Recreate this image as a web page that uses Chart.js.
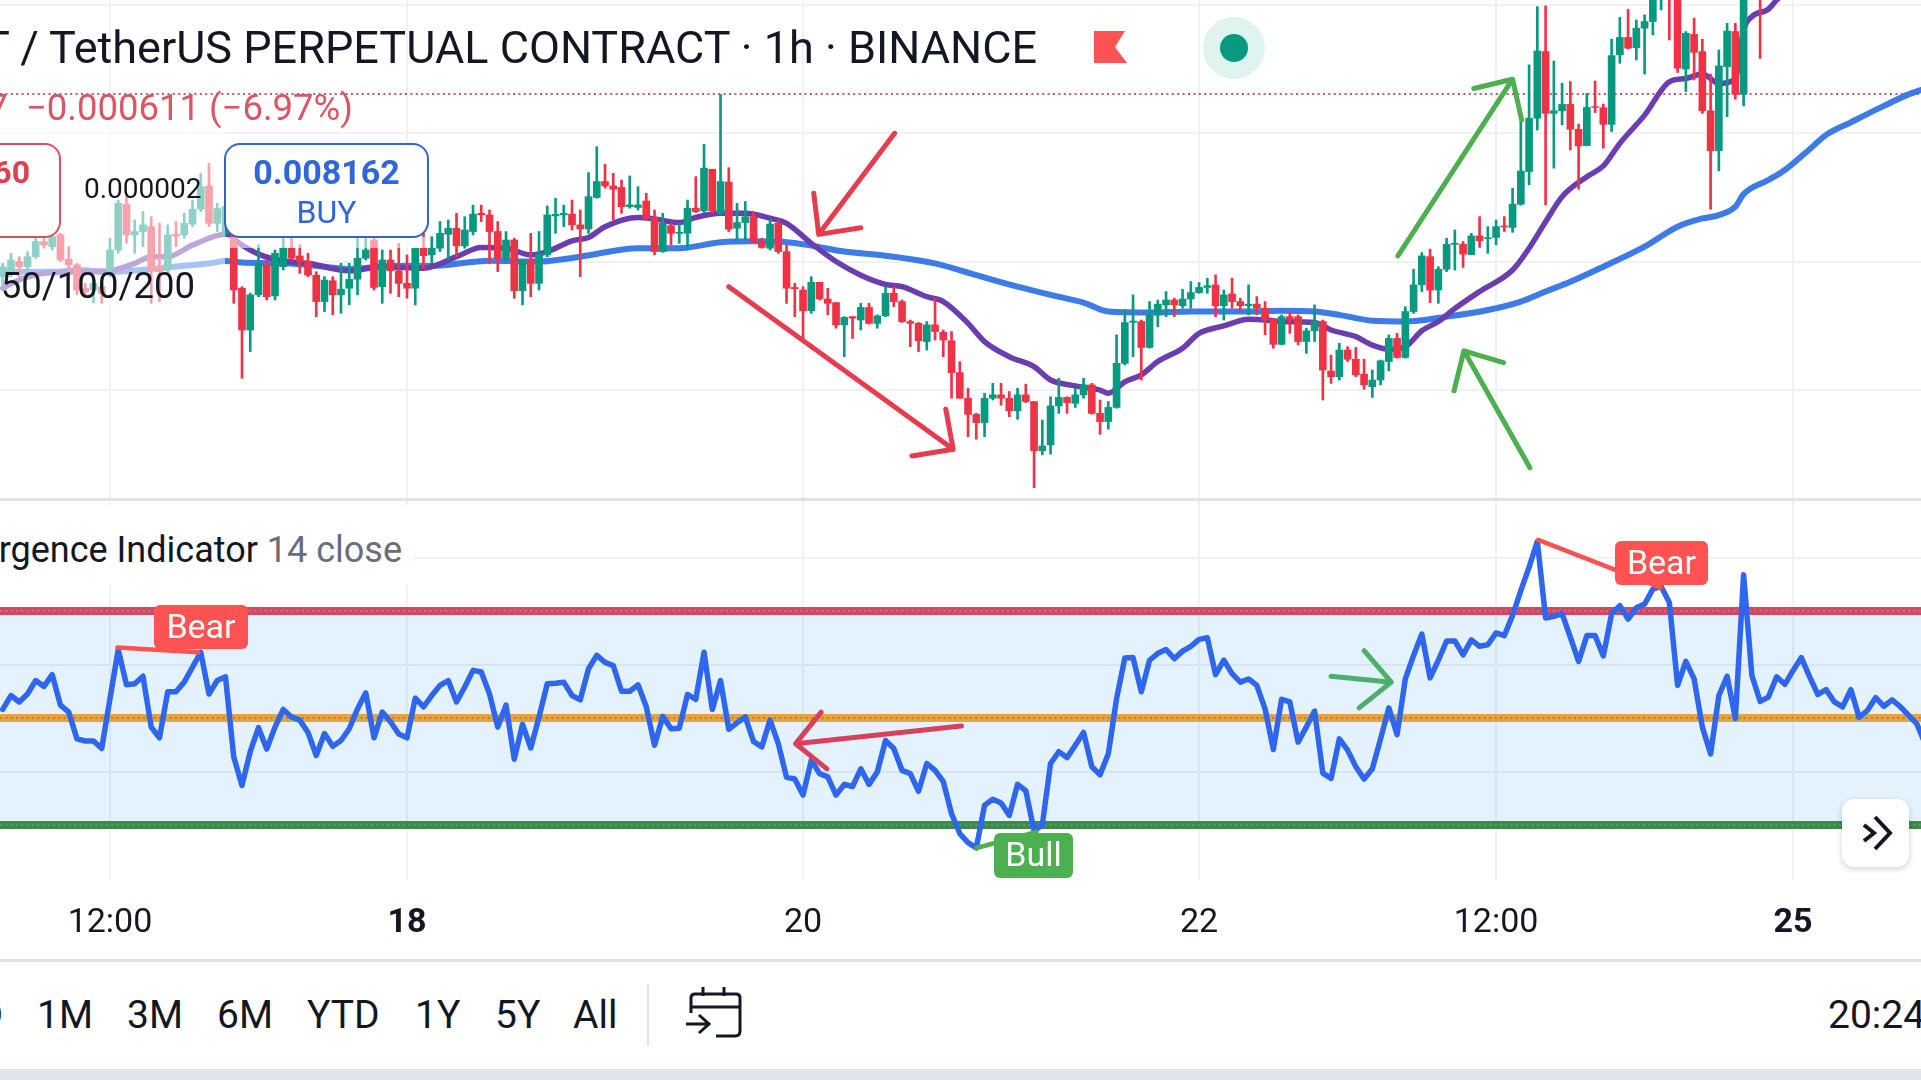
<!DOCTYPE html>
<html>
<head>
<meta charset="utf-8">
<title>TetherUS perpetual 1h</title>
<script src="https://cdn.jsdelivr.net/npm/chart.js@4"></script>
<style>
  html, body { margin: 0; padding: 0; background: #fff; }
  #page { position: relative; width: 1921px; height: 1080px; overflow: hidden; background: #fff; font-family: Roboto, sans-serif; color: #131722; }
  canvas { position: absolute; left: 0; display: block; }
  #priceChart { top: 0; }
  #rsiChart { top: 500px; }
  .abs { position: absolute; }
  .txt { position: absolute; line-height: 1; white-space: nowrap; }
  .tag { position: absolute; color: #fff; border-radius: 6px; font-size: 34px; line-height: 42px; text-align: center; }
  .box { position: absolute; top: 143px; height: 91px; background: #fff; border: 2px solid; border-radius: 16px; }
</style>
</head>
<body>
<div id="page">
  <canvas id="priceChart" width="1921" height="499"></canvas>
  <canvas id="rsiChart" width="1921" height="460"></canvas>

  <!-- separators -->
  <div class="abs" style="left:0;top:498px;width:1921px;height:3px;background:#e0e3eb"></div>
  <div class="abs" style="left:0;top:959px;width:1921px;height:3px;background:#e0e0e0"></div>
  <div class="abs" style="left:0;top:1069px;width:1921px;height:11px;background:#dfe3ec"></div>

  <!-- legend veil over the chart -->
  <div class="abs" style="left:0;top:100px;width:225px;height:205px;background:rgba(255,255,255,.55)"></div>
  <div class="abs" style="left:225px;top:237px;width:205px;height:11px;background:rgba(255,255,255,.55)"></div>
  <div class="abs" style="left:0;top:505px;width:414px;height:80px;background:#fff"></div>

  <div class="txt" style="right:884px;top:25px;font-size:45px">T / TetherUS PERPETUAL CONTRACT · 1h · BINANCE</div>
  <svg class="abs" style="left:1093px;top:31px" width="34" height="33" viewBox="0 0 34 33"><path d="M1 0H32L22 16L34 32H1Z" fill="#ff5252"/></svg>
  <div class="abs" style="left:1203px;top:17px;width:62px;height:62px;border-radius:50%;background:#dff3ef"></div>
  <div class="abs" style="left:1220px;top:34px;width:28px;height:28px;border-radius:50%;background:#089981"></div>

  <div class="txt" style="right:1568px;top:90px;font-size:36.5px;color:#dc5564">7&nbsp; −0.000611 (−6.97%)</div>

  <div class="box" style="left:-20px;width:77px;border-color:#d9505f"></div>
  <div class="txt" style="right:1891px;top:156px;font-size:32px;font-weight:700;color:#e0404f">60</div>
  <div class="txt" style="left:84px;top:175px;font-size:28px">0.000002</div>
  <div class="box" style="left:224px;width:201px;border-color:#3366cc"></div>
  <div class="txt" style="left:224px;width:205px;text-align:center;top:155px;font-size:34px;font-weight:700;color:#2f66dd">0.008162</div>
  <div class="txt" style="left:224px;width:205px;text-align:center;top:196px;font-size:32px;color:#2f66dd">BUY</div>
  <div class="txt" style="right:1726px;top:268px;font-size:36.5px">50/100/200</div>

  <div class="txt" style="right:1519px;top:532px;font-size:36px">rgence Indicator <span style="color:#6a6d78">14 close</span></div>

  <div class="tag" style="left:154px;top:605px;width:94px;height:44px;background:#ff5252">Bear</div>
  <div class="tag" style="left:1615px;top:541px;width:93px;height:44px;background:#ff5252">Bear</div>
  <div class="tag" style="left:994px;top:833px;width:79px;height:45px;background:#4caf50">Bull</div>

  <div class="abs" style="left:1842px;top:799px;width:67px;height:68px;border-radius:12px;background:#fff;box-shadow:0 2px 6px rgba(0,0,0,.18)"></div>
  <svg class="abs" style="left:1862px;top:815px" width="32" height="36" viewBox="0 0 32 36" fill="none" stroke="#131722" stroke-width="4"><path d="M2 10L12 18L2 26"/><path d="M13 2L28 18L13 34"/></svg>

  <div class="txt" style="right:1918px;top:996px;font-size:39px">D</div>
  <div class="txt" style="left:37px;top:996px;font-size:39px">1M</div>
  <div class="txt" style="left:127px;top:996px;font-size:39px">3M</div>
  <div class="txt" style="left:217px;top:996px;font-size:39px">6M</div>
  <div class="txt" style="left:307px;top:996px;font-size:39px">YTD</div>
  <div class="txt" style="left:415px;top:996px;font-size:39px">1Y</div>
  <div class="txt" style="left:495px;top:996px;font-size:39px">5Y</div>
  <div class="txt" style="left:573px;top:996px;font-size:39px">All</div>
  <div class="abs" style="left:647px;top:984px;width:2px;height:62px;background:#e0e3eb"></div>
  <svg class="abs" style="left:686px;top:987px" width="56" height="52" viewBox="0 0 56 52" fill="none" stroke="#131722" stroke-width="3"><path d="M17 0V9M38 0V9M5 20H54M5 26V11Q5 7 9 7H50Q54 7 54 11V44Q54 49 49 49H30"/><path d="M0 37H22M13 28L23 37L13 46"/></svg>
  <div class="txt" style="left:1828px;top:996px;font-size:39px">20:24</div>
</div>

<script>
/* prices are in millionths of USDT, one value per hourly candle from firstHour on */
var firstHour = -13;
var opens = [
  7441,7461,7500,7480,7519,7578,7558,7604,7509,7487,
  7396,7389,7402,7467,7545,7724,7604,7617,7636,7474,
  7467,7606,7604,7646,7704,7795,7649,7610,7610,7396,
  7233,7370,7487,7366,7480,7552,7522,7500,7447,7344,
  7425,7370,7396,7431,7513,7584,7402,7506,7464,7415,
  7396,7552,7526,7552,7606,7630,7561,7617,7688,7682,
  7617,7513,7584,7386,7506,7415,7526,7678,7682,7685,
  7643,7627,7750,7812,7795,7789,7714,7711,7736,7672,
  7539,7640,7610,7610,7708,7698,7860,7688,7810,7630,
  7652,7675,7578,7552,7649,7539,7399,7389,7308,7419,
  7354,7340,7253,7285,7272,7321,7259,7288,7376,7344,
  7266,7259,7188,7253,7224,7191,7067,6967,6904,6872,
  6967,6980,6967,6918,6980,6954,6762,6785,6937,6970,
  6947,6980,7019,6908,6876,6931,7103,7263,7266,7165,
  7292,7331,7350,7328,7354,7379,7399,7409,7328,7374,
  7344,7328,7334,7318,7275,7177,7285,7285,7188,7230,
  7266,7073,7051,7155,7119,7061,7012,7038,7110,7200,
  7126,7305,7409,7519,7389,7470,7567,7567,7527,7600,
  7589,7594,7639,7633,7723,7851,8059,8319,8078,8088,
  8113,8016,7952,8104,8100,8035,8306,8374,8334,8410,
  8436,8533,8598,8533,8251,8386,8319,8088,7932,8260,
  8397,8153,8572,8637
];
var closes = [
  7480,7506,7480,7519,7578,7565,7597,7506,7487,7389,
  7383,7415,7376,7545,7727,7604,7617,7643,7467,7461,
  7604,7600,7649,7704,7792,7649,7707,7714,7389,7233,
  7370,7493,7363,7532,7552,7513,7500,7447,7344,7428,
  7370,7392,7431,7513,7545,7399,7506,7464,7415,7396,
  7552,7523,7552,7610,7630,7561,7623,7685,7682,7617,
  7513,7584,7386,7506,7415,7529,7682,7684,7688,7643,
  7627,7753,7812,7795,7782,7714,7721,7721,7669,7539,
  7649,7610,7614,7708,7695,7864,7698,7812,7626,7652,
  7675,7578,7555,7646,7539,7396,7394,7308,7419,7354,
  7337,7253,7282,7279,7321,7259,7288,7376,7344,7266,
  7259,7191,7253,7227,7194,7067,6967,6904,6872,6967,
  6980,6967,6918,6980,6954,6762,6781,6937,6970,6950,
  6980,7019,6908,6876,6931,7103,7262,7268,7165,7292,
  7334,7350,7331,7354,7379,7399,7406,7328,7370,7344,
  7328,7334,7318,7272,7177,7285,7272,7188,7230,7266,
  7077,7051,7155,7119,7058,7019,7038,7113,7200,7126,
  7305,7409,7522,7389,7470,7567,7571,7529,7600,7581,
  7593,7636,7635,7724,7853,8059,8321,8078,8088,8113,
  8016,7951,8101,8101,8035,8303,8374,8332,8410,8436,
  8520,8598,8533,8254,8390,8316,8088,7932,8263,8399,
  8152,8559,8637,8585
];
var highs = [
  7493,7532,7519,7539,7610,7610,7623,7610,7558,7493,
  7415,7441,7409,7591,7740,7753,7662,7695,7675,7649,
  7643,7656,7688,7740,7844,7883,7727,7727,7623,7402,
  7376,7565,7506,7545,7591,7591,7565,7532,7460,7441,
  7441,7493,7493,7591,7591,7591,7545,7545,7571,7526,
  7552,7610,7597,7656,7662,7688,7675,7720,7720,7701,
  7656,7617,7591,7506,7610,7617,7717,7747,7720,7740,
  7701,7847,7948,7879,7844,7818,7834,7792,7766,7701,
  7688,7649,7649,7740,7831,7957,7860,8152,7866,7727,
  7734,7695,7591,7665,7662,7565,7415,7402,7441,7419,
  7396,7340,7285,7285,7337,7337,7292,7402,7402,7350,
  7272,7262,7266,7357,7233,7227,7110,7006,6908,6986,
  7025,7025,6993,7006,7022,6954,6882,6973,7045,6973,
  7006,7045,7025,6960,6954,7214,7311,7370,7272,7344,
  7350,7383,7357,7392,7422,7418,7435,7448,7389,7435,
  7357,7409,7363,7344,7279,7292,7305,7292,7240,7331,
  7272,7135,7181,7168,7165,7119,7077,7116,7214,7220,
  7324,7470,7535,7548,7480,7591,7623,7578,7610,7675,
  7636,7662,7675,7786,8052,8267,8494,8497,8282,8195,
  8202,8036,8156,8204,8114,8367,8452,8484,8442,8462,
  8546,8624,8624,8546,8397,8449,8367,8231,8325,8429,
  8429,8598,8650,8650
];
var lows = [
  7402,7441,7441,7467,7512,7552,7545,7500,7441,7370,
  7363,7340,7337,7441,7532,7571,7532,7558,7337,7344,
  7454,7558,7591,7636,7695,7636,7617,7597,7337,7045,
  7149,7363,7350,7350,7467,7506,7454,7441,7285,7305,
  7292,7298,7331,7370,7506,7389,7337,7376,7363,7357,
  7331,7474,7493,7539,7506,7519,7552,7604,7656,7493,
  7461,7500,7357,7331,7363,7389,7519,7610,7636,7623,
  7441,7610,7747,7786,7662,7688,7708,7701,7662,7526,
  7536,7565,7571,7545,7691,7688,7688,7682,7617,7584,
  7584,7571,7552,7545,7532,7337,7285,7200,7298,7350,
  7292,7240,7129,7200,7233,7256,7240,7285,7324,7262,
  7168,7149,7155,7194,7129,6967,6967,6817,6807,6817,
  6960,6940,6895,6885,6950,6618,6746,6749,6908,6908,
  6931,6967,6905,6826,6846,6928,7097,7129,7038,7162,
  7246,7285,7285,7318,7318,7376,7376,7285,7272,7318,
  7305,7292,7292,7214,7162,7175,7220,7175,7142,7188,
  6960,7025,7038,7110,7051,7002,6970,7019,7074,7123,
  7123,7298,7383,7340,7337,7461,7467,7477,7526,7555,
  7532,7565,7617,7614,7720,7799,8013,7721,7864,8033,
  7935,7782,7951,8081,7942,8007,8273,8329,8286,8231,
  8384,8481,8364,8237,8163,8208,8078,7704,7854,8065,
  8133,8107,8559,8292
];

/* moving averages, read at the bends of each curve */
var slowHours = [-13,-7,-4,0,6,12,14,16,21,26,29,34,39,46,52,57,64,69,74,78,81,85,89,94,100,105,110,114,118,121,126,131,138,142,146,149,153,157,162,167,171,174,177,181,186,190,193,195,197,198,201,203,206,208,211,215,218,220];
var slowValues = [7460,7460,7467,7460,7474,7493,7502,7496,7493,7480,7470,7483,7483,7503,7500,7519,7552,7552,7575,7579,7578,7562,7539,7523,7493,7447,7402,7370,7340,7305,7301,7305,7305,7308,7305,7292,7269,7266,7285,7311,7344,7383,7421,7480,7558,7636,7668,7681,7714,7763,7818,7857,7938,7994,8043,8107,8152,8175];
var fastHours = [-13,-11,-8,-3,0,3,5,7,10,14,16,18,21,24,29,33,38,42,45,48,51,53,56,58,60,64,66,69,71,74,77,80,82,85,88,91,94,96,99,101,104,106,109,112,114,117,120,121,123,125,127,130,132,135,138,141,142,146,148,151,153,155,157,159,161,163,166,170,172,174,176,179,181,183,186,189,191,193,195,197,198,199,201,202,204];
var fastValues = [7396,7428,7454,7460,7464,7493,7519,7519,7564,7606,7564,7529,7502,7493,7464,7480,7474,7519,7555,7552,7526,7539,7581,7594,7636,7672,7666,7652,7672,7688,7688,7669,7649,7571,7500,7447,7411,7402,7363,7344,7259,7188,7129,7090,7038,7015,6999,6986,7031,7058,7110,7162,7220,7249,7275,7269,7266,7262,7233,7207,7174,7158,7168,7230,7266,7317,7383,7467,7552,7655,7753,7831,7873,7961,8071,8201,8214,8231,8195,8214,8403,8455,8484,8520,8572];
var lastPrice = 8153;
var priceTicks = [8500, 8000, 7500, 7000];

/* hand drawn arrows on the price pane */
var arrowAHours = [95.1,85.9,85.3,85.9,91.0];
var arrowAPrices = [8000,7606,7766,7606,7632];
var arrowBHours = [75.0,102.2,101.3,102.2,97.2];
var arrowBPrices = [7402,6768,6924,6768,6742];
var arrowCHours = [156.1,170.0,165.3,170.0,171.1];
var arrowCPrices = [7522,8211,8175,8211,8052];
var arrowDHours = [172.1,164.1,162.9,164.1,168.9];
var arrowDPrices = [6696,7152,6996,7152,7106];

/* oscillator, one value per hour from firstHour on */
var rsiValues = [
  51.6,54.2,53.0,54.5,57.0,55.9,58.1,52.4,51.1,46.1,
  45.7,45.7,44.3,53.6,62.8,56.2,56.4,57.8,48.3,46.3,
  54.9,54.9,56.7,59.5,62.3,54.5,57.0,57.7,42.7,37.4,
  43.7,48.2,44.2,48.3,51.6,50.2,49.6,47.3,43.0,47.1,
  44.7,45.8,48.0,51.7,54.7,46.3,51.1,49.3,47.0,46.3,
  53.7,52.1,54.2,56.1,57.0,53.0,55.8,58.9,58.6,54.5,
  48.3,52.4,42.3,48.8,44.4,50.2,56.4,56.5,56.7,54.2,
  53.4,59.2,61.7,60.4,59.8,55.0,55.0,56.2,52.1,44.9,
  50.3,48.0,48.1,54.4,53.5,62.3,51.6,57.0,47.9,49.1,
  50.2,45.6,44.6,49.6,45.2,38.9,38.6,35.6,42.1,39.6,
  39.0,35.6,37.6,37.2,40.5,37.6,39.9,45.8,44.3,40.2,
  39.6,36.3,41.5,40.2,38.1,32.1,28.4,26.7,25.7,33.7,
  34.8,34.1,31.8,37.6,36.4,28.9,30.0,41.5,43.7,42.6,
  44.9,47.3,40.9,39.4,43.3,53.6,61.2,61.3,54.9,60.8,
  62.1,62.8,61.1,62.5,63.4,64.7,65.0,58.1,60.8,58.3,
  56.7,57.3,56.1,51.7,44.1,53.5,53.0,45.5,48.3,51.3,
  39.7,38.7,46.1,44.0,40.9,38.6,40.5,46.1,51.9,46.9,
  57.3,61.7,65.7,57.5,60.8,64.4,64.4,61.8,64.6,63.4,
  63.7,65.9,65.4,69.2,73.8,78.2,83.0,68.7,69.0,69.5,
  65.1,60.6,65.4,65.4,61.6,69.5,71.0,68.5,70.6,71.3,
  74.1,74.6,71.6,56.1,60.6,57.3,48.3,43.3,54.2,57.8,
  49.9,76.8,58.0,53.1,53.9,57.7,56.3,58.9,61.3,57.7,
  54.4,55.3,53.0,52.1,55.3,50.1,51.4,53.8,52.2,53.4,
  52.1,50.5,48.9,45.2
];
var rsiTicks = [80, 60, 40];
var upperBand = 70, middleBand = 50, lowerBand = 30;

/* divergence links and the arrows on the oscillator pane */
var bearOneHours = [0.9, 10.7];
var bearOneValues = [63.2, 62.3];
var bearTwoHours = [173.1, 187.9];
var bearTwoValues = [83.3, 74.4];
var bullHours = [105.0, 112.3];
var bullValues = [25.7, 28.7];
var arrowEHours = [103.2,83.1,86.2,83.1,86.9];
var arrowEValues = [48.5,45.2,51.1,45.2,40.5];
var arrowFHours = [148.0,155.3,152.0,155.3,151.4];
var arrowFValues = [57.8,56.7,62.6,56.7,51.9];

/* time axis */
var timeTicks = [0, 36, 84, 132, 168, 204];
var timeLabels = ['12:00', '18', '20', '22', '12:00', '25'];
var boldLabels = ['18', '25'];

var hourMin = -13.33, hourMax = 219.5;
var UP = '#089981', DOWN = '#ef3346', GRID = '#eff1f3';

Chart.defaults.font.family = "Roboto, sans-serif";
Chart.defaults.animation = false;
Chart.defaults.plugins.legend.display = false;
Chart.defaults.plugins.tooltip.enabled = false;

function zip(hours, values) {
  return hours.map(function(h, i) { return { x: h, y: values[i] }; });
}

function level(value) {
  return [{ x: hourMin, y: value }, { x: hourMax, y: value }];
}

function line(data, color, width, order, extra) {
  return Object.assign({
    type: 'line', data: data, borderColor: color, borderWidth: width, order: order,
    pointRadius: 0, tension: 0, borderCapStyle: 'round', borderJoinStyle: 'round'
  }, extra || {});
}

function hourAt(i) { return firstHour + i; }

var candleColors = opens.map(function(o, i) { return closes[i] >= o ? UP : DOWN; });
var bodies = opens.map(function(o, i) { return { x: hourAt(i), y: [o, closes[i]] }; });
var wicks = opens.map(function(o, i) { return { x: hourAt(i), y: [lows[i], highs[i]] }; });
var rsiPoints = rsiValues.map(function(v, i) { return { x: hourAt(i), y: v }; });

function xAxis(showLabels) {
  return {
    type: 'linear',
    min: hourMin,
    max: hourMax,
    offset: false,
    afterBuildTicks: function(axis) {
      axis.ticks = timeTicks.map(function(t) { return { value: t }; });
    },
    afterFit: function(axis) { axis.height = showLabels ? 80 : 0; },
    border: { display: false },
    grid: { color: GRID, lineWidth: 2, drawTicks: false, offset: false },
    ticks: {
      display: showLabels,
      autoSkip: false,
      maxRotation: 0,
      padding: 23,
      color: '#131722',
      callback: function(value) { return timeLabels[timeTicks.indexOf(value)]; },
      font: function(ctx) {
        var label = timeLabels[timeTicks.indexOf(ctx.tick ? ctx.tick.value : -1)];
        return { size: 34, weight: boldLabels.indexOf(label) >= 0 ? '700' : '400' };
      }
    }
  };
}

function yAxis(min, max, ticks) {
  return {
    min: min,
    max: max,
    afterBuildTicks: function(axis) {
      axis.ticks = ticks.map(function(t) { return { value: t }; });
    },
    border: { display: false },
    grid: { color: GRID, lineWidth: 2, drawTicks: false },
    ticks: { display: false }
  };
}

new Chart(document.getElementById('priceChart'), {
  type: 'bar',
  data: {
    datasets: [
      line(level(lastPrice), '#c05a66', 2, 6, { borderDash: [2, 3.4], borderCapStyle: 'butt' }),
      line(zip(slowHours, slowValues), '#3d7be8', 6, 5, { cubicInterpolationMode: 'monotone' }),
      line(zip(fastHours, fastValues), '#6a3db0', 5.5, 4, { cubicInterpolationMode: 'monotone' }),
      { type: 'bar', data: wicks, backgroundColor: candleColors, barThickness: 2, grouped: false, order: 3 },
      { type: 'bar', data: bodies, backgroundColor: candleColors, barThickness: 7, grouped: false, order: 2 },
      line(zip(arrowAHours, arrowAPrices), '#e63c4e', 5, 1),
      line(zip(arrowBHours, arrowBPrices), '#e63c4e', 5, 1),
      line(zip(arrowCHours, arrowCPrices), '#4caf50', 5, 1),
      line(zip(arrowDHours, arrowDPrices), '#4caf50', 5, 1)
    ]
  },
  options: {
    responsive: false,
    layout: { padding: 0 },
    scales: { x: xAxis(false), y: yAxis(6574, 8520, priceTicks) }
  }
});

new Chart(document.getElementById('rsiChart'), {
  type: 'line',
  data: {
    datasets: [
      line(level(upperBand), 'rgba(0,0,0,0)', 0, 9, { fill: { value: lowerBand }, backgroundColor: 'rgba(33,150,243,.12)' }),
      line(level(upperBand), '#d34860', 8, 8, { borderCapStyle: 'butt' }),
      line(level(upperBand), '#dd6a7e', 2, 7, { borderDash: [2, 3.3], borderCapStyle: 'butt' }),
      line(level(middleBand), '#e3a444', 8, 8, { borderCapStyle: 'butt' }),
      line(level(middleBand), '#b5822f', 2, 7, { borderDash: [2, 3.3], borderCapStyle: 'butt' }),
      line(level(lowerBand), '#3d8a4c', 8, 8, { borderCapStyle: 'butt' }),
      line(level(lowerBand), '#5a9c69', 2, 7, { borderDash: [2, 3.3], borderCapStyle: 'butt' }),
      line(rsiPoints, '#2f66f0', 5.5, 5),
      line(zip(bearOneHours, bearOneValues), '#ff5252', 4.5, 4),
      line(zip(bearTwoHours, bearTwoValues), '#ff5252', 4.5, 4),
      line(zip(bullHours, bullValues), '#4caf50', 4.5, 4),
      line(zip(arrowEHours, arrowEValues), '#d9405a', 5, 1),
      line(zip(arrowFHours, arrowFValues), '#4caf6a', 5, 1)
    ]
  },
  options: {
    responsive: false,
    layout: { padding: 0 },
    scales: { x: xAxis(true), y: yAxis(19.72, 90.75, rsiTicks) }
  }
});
</script>
</body>
</html>
